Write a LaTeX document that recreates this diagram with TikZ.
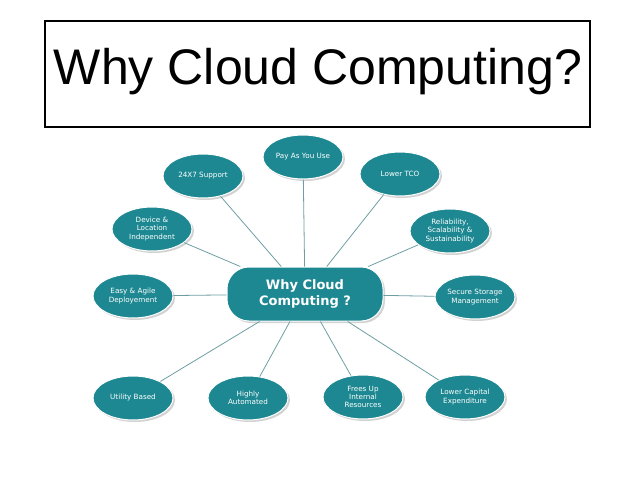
\documentclass[tikz,border=0pt]{standalone}
\usepackage{fontspec}
\setmainfont{Liberation Sans}
\newfontfamily\dejavu{DejaVu Sans}
\usetikzlibrary{shapes.geometric,shadows}
\definecolor{teal}{HTML}{1D8891}
\definecolor{linkc}{HTML}{6E9EA4}
\tikzset{
  bubble/.style={ellipse,fill=teal,draw=white,line width=1pt,minimum width=80pt,minimum height=44pt,
    inner sep=0pt,align=center,text=white,font=\dejavu\fontsize{7.2}{8.2}\selectfont,
    drop shadow={shadow xshift=2pt,shadow yshift=-2pt,fill=black!35}},
  hub/.style={rounded corners=22pt,fill=teal,draw=white,line width=1pt,minimum width=156pt,minimum height=54pt,
    align=center,text=white,font=\dejavu\bfseries\fontsize{13}{16.5}\selectfont,
    drop shadow={shadow xshift=2pt,shadow yshift=-2pt,fill=black!35}},
  link/.style={draw=linkc,line width=0.8pt}
}
\begin{document}
\begin{tikzpicture}[x=1pt,y=-1pt]
\useasboundingbox (0,0) rectangle (638,479);
% title
\draw[line width=2pt] (45,21) rectangle (590,127);
\node (title) at (318,72) {\fontsize{50}{54}\selectfont Why Cloud Computing?};
% bubbles
\node[hub] (why) at (305,294) {Why Cloud\\Computing ?};
\node[bubble] (pay) at (303,157) {Pay As You Use};
\node[bubble] (support) at (203,176) {24X7 Support};
\node[bubble] (tco) at (400,174) {Lower TCO};
\node[bubble] (device) at (152,229) {Device \&\\Location\\Independent};
\node[bubble] (reliab) at (450,231) {Reliability,\\Scalability \&\\Sustainability};
\node[bubble] (easy) at (133,296) {Easy \& Agile\\Deployement};
\node[bubble] (secure) at (475,297) {Secure Storage\\Management};
\node[bubble] (utility) at (133,398) {Utility Based};
\node[bubble] (highly) at (248,398) {Highly\\Automated};
\node[bubble] (frees) at (363,397) {Frees Up\\Internal\\Resources};
\node[bubble] (capital) at (465,397) {Lower Capital\\Expenditure};
% links
\begin{scope}[on background layer/.try]
\foreach \n in {pay,support,tco,device,reliab,easy,secure,utility,highly,frees,capital}
  \draw[link] (why) -- (\n);
\end{scope}
\end{tikzpicture}
\end{document}
